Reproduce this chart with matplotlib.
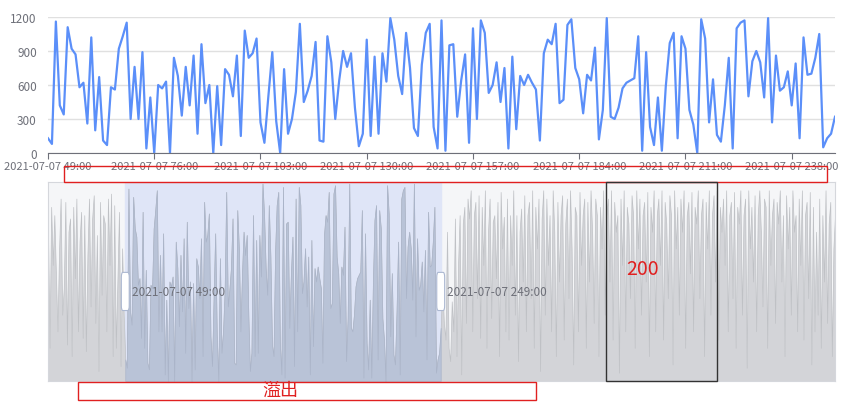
import matplotlib.pyplot as plt
from matplotlib.patches import Rectangle, FancyBboxPatch

plt.rcParams['font.family'] = ['Noto Sans CJK SC', 'DejaVu Sans']

# values 0..48 (only seen in the slider)
values_before = [
    900, 200, 1050, 700, 1000, 650, 300, 780, 1100, 400, 560, 1080, 220, 900, 980, 150,
    1050, 620, 1100, 300, 840, 1020, 260, 1000, 180, 760, 1100, 450, 980, 1120, 350,
    880, 60, 1080, 520, 1000, 950, 300, 1100, 700, 1130, 150, 1060, 200, 600, 1020, 90,
    800, 400,
]
# values 49..249 (main chart)
values_main = [
    130, 80, 1160, 420, 340, 1110, 920, 870, 580, 620, 260, 1020, 200, 670, 110, 70,
    580, 560, 920, 1030, 1150, 300, 760, 300, 890, 40, 490, 0, 600, 570, 630, 0,
    840, 680, 330, 760, 420, 860, 170, 960, 440, 600, 0, 590, 70, 740, 690, 500,
    860, 150, 1080, 840, 880, 1010, 270, 90, 500, 890, 280, 0, 740, 170, 300, 540,
    1140, 450, 550, 680, 980, 110, 100, 1030, 800, 300, 640, 900, 760, 880, 400, 60,
    170, 1000, 150, 850, 170, 880, 630, 1190, 1000, 680, 520, 1060, 750, 220, 150, 780,
    1060, 1140, 230, 40, 1170, 20, 950, 960, 320, 640, 870, 90, 1100, 300, 1170, 1060,
    530, 600, 800, 450, 750, 40, 850, 210, 680, 600, 690, 620, 560, 110, 880, 1000,
    960, 1140, 440, 470, 1130, 1180, 750, 650, 350, 690, 640, 930, 120, 380, 1190, 320,
    300, 400, 570, 620, 640, 660, 1030, 20, 890, 230, 70, 490, 20, 590, 970, 1060,
    130, 1030, 920, 380, 250, 0, 1180, 1010, 270, 650, 160, 100, 420, 840, 40, 1100,
    1150, 1170, 500, 810, 900, 800, 490, 1190, 270, 860, 550, 580, 720, 420, 790, 130,
    1020, 690, 700, 840, 1050, 50, 130, 170, 320,
]
# values 250..499 (only seen in the slider)
values_after = [
    600, 350, 250, 900, 200, 120, 480, 300, 980, 150, 700, 1000, 40, 950, 1050, 350,
    1100, 980, 1150, 300, 1000, 1080, 500, 1120, 260, 1050, 700, 1150, 200, 900, 1100,
    380, 960, 1000, 620, 1080, 150, 1140, 800, 990, 300, 1100, 250, 1000, 700, 1150,
    400, 1000, 120, 900, 1040, 600, 1120, 300, 1000, 1080, 500, 1150, 200, 1050, 800,
    1100, 60, 980, 1150, 400, 1100, 700, 1000, 300, 1150, 900, 150, 1080, 600, 1000,
    1120, 250, 950, 1100, 500, 1150, 800, 100, 1050, 1000, 300, 1140, 700, 1000, 1100,
    200, 1080, 600, 1150, 900, 350, 1100, 1000, 150, 1050, 800, 1150, 400, 1000, 1100,
    600, 1150, 250, 1080, 900, 1000, 50, 1100, 700, 1150, 300, 1050, 950, 500, 1120,
    1000, 200, 1150, 800, 1100, 400, 1000, 1080, 600, 1140, 150, 1050, 900, 1150, 300,
    1000, 1100, 700, 1150, 250, 1080, 950, 500, 1120, 1000, 100, 1150, 800, 1050, 400,
    1100, 900, 1150, 200, 1000, 1080, 650, 1140, 300, 1050, 950, 1150, 500, 1000, 1100,
    150, 1080, 800, 1150, 400, 1000, 1120, 600, 1150, 250, 1050, 900, 1100, 700, 1150,
    300, 1000, 1080, 500, 1140, 200, 1050, 950, 1150, 400, 1000, 1100, 80, 1150, 800,
    1050, 600, 1120, 300, 1000, 1150, 900, 450, 1100, 1050, 200, 1150, 700, 1000, 1100,
    350, 1080, 950, 1150, 600, 1000, 150, 1120, 800, 1050, 400, 1150, 900, 1000, 300,
    1100, 700, 1150, 250, 1000, 1080, 500, 1140, 100, 1050, 300, 900, 400, 1100, 200,
    1000, 600, 1150, 350, 950, 1080, 150, 800, 1000, 500, 1120, 250, 900, 700, 1000,
    300, 1150, 600, 1050, 200, 980, 400, 1100, 800, 1000, 350, 1150, 500, 900, 250,
]
values = (values_before + values_main + values_after)[:500]
n_total = 500
start, end = 49, 249
tick_step = 27
label_fmt = '2021-07-07 {}:00'

W, H = 850, 406
fig = plt.figure(figsize=(W / 100, H / 100), dpi=100)

def box(l, t, r, b):
    return [l / W, 1 - b / H, (r - l) / W, (b - t) / H]

# main line chart
ax = fig.add_axes(box(48, 18, 835, 154))
xs = list(range(start, end + 1))
ax.plot(xs, values_main, color='#5b8ff9', lw=1.6)
ax.set_xlim(start, end)
ax.set_ylim(0, 1200)
ax.set_yticks([0, 300, 600, 900, 1200])
ax.grid(axis='y', color='#e0e0e0', lw=1)
ax.set_axisbelow(True)
for s in ['top', 'right', 'left']:
    ax.spines[s].set_visible(False)
ax.spines['bottom'].set_color('#6e7079')
ticks = list(range(start, end + 1, tick_step))
ax.set_xticks(ticks)
ax.set_xticklabels([label_fmt.format(t) for t in ticks])
ax.tick_params(axis='x', colors='#6e7079', labelcolor='#6e7079', labelsize=8, length=4, pad=2)
ax.tick_params(axis='y', colors='#6e7079', labelsize=8.5, length=0, pad=8)

# slider
sx = fig.add_axes(box(48, 183, 835, 382))
allx = list(range(len(values)))
sx.set_xlim(0, n_total - 1)
sx.set_ylim(0, 1200)
sx.set_facecolor('#f5f6f8')
sx.fill_between(allx, values, color='#d3d4d8', lw=0.5, edgecolor='#bfc1c5')
sel = allx[start:end + 1]
sx.fill_between(sel, values[start:end + 1], color='#b9c3d7', lw=0.5, edgecolor='#aab4c9', zorder=3)
sx.axvspan(start, end, color='#dfe5f7', zorder=0)
sx.set_xticks([])
sx.set_yticks([])
for s in sx.spines.values():
    s.set_color('#d5d7dc')
for pos in (start, end):
    sx.add_patch(FancyBboxPatch((pos - 2, 440), 4, 200, boxstyle='round,pad=0.5,rounding_size=1',
                                fc='white', ec='#acb8d1', lw=0.8, zorder=5, mutation_aspect=30))
    sx.text(pos + 4, 540, label_fmt.format(pos), color='#6e7079', fontsize=8.5,
            va='center', ha='left', zorder=6)

# red annotation overlays
ov = fig.add_axes([0, 0, 1, 1], facecolor='none')
ov.set_xlim(0, W)
ov.set_ylim(H, 0)
ov.axis('off')
ov.add_patch(Rectangle((64, 167), 763, 16, fill=False, ec='#e02020', lw=1))
ov.add_patch(Rectangle((78, 383), 458, 18, fill=False, ec='#e02020', lw=1))
ov.add_patch(Rectangle((606, 183), 111, 199, fill=False, ec='#333333', lw=1))
ov.text(280, 391, '溢出', color='#e02020', fontsize=13, ha='center', va='center')
ov.text(643, 270, '200', color='#e02020', fontsize=14, ha='center', va='center')

fig.savefig('out.png', dpi=100)
